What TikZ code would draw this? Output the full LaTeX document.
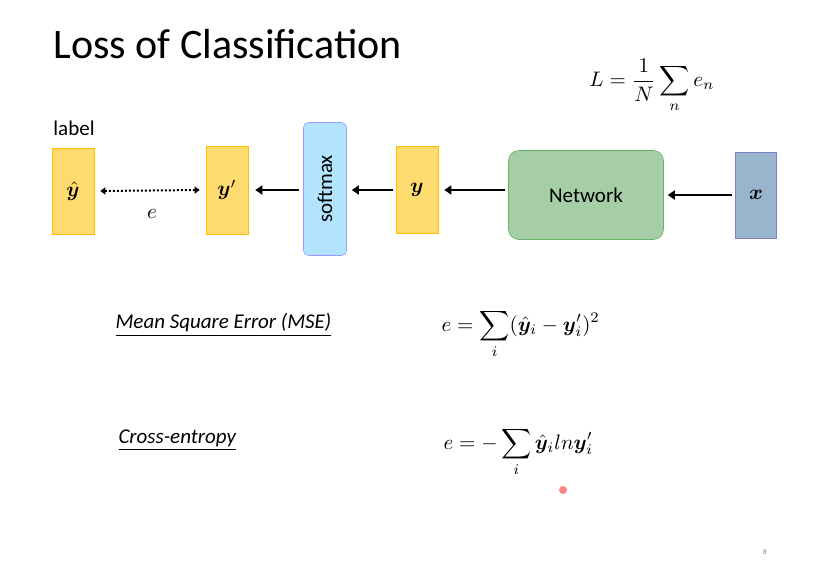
\documentclass[tikz,border=0pt]{standalone}
\usepackage{amsmath,bm}
\usepackage{fontspec}
\setmainfont{Carlito}
\usetikzlibrary{arrows.meta}
\newcommand\mybig[1]{\scalebox{2.1}{#1}}
\begin{document}
\begin{tikzpicture}[x=1pt,y=-1pt,
  ybox/.style={draw=orange!50!yellow,fill=yellow!55!orange!55,line width=0.6pt,inner sep=0pt},
  arr/.style={-{Triangle[length=7pt,width=9pt]},line width=2.6pt},
  mid/.style={font=\fontsize{21}{24}\selectfont}]
\useasboundingbox (0,0) rectangle (818,560);
\node[anchor=west,font=\fontsize{42}{46}\selectfont] (title) at (50,44) {Loss of Classification};
\node (L) at (652,86) {\mybig{$L=\dfrac{1}{N}\displaystyle\sum_n e_n$}};
\node[mid] (lab) at (74,128) {label};
\node[ybox,minimum width=42pt,minimum height=86pt] (yh) at (73,191) {\mybig{$\hat{\bm y}$}};
\node[ybox,minimum width=42pt,minimum height=88pt] (yp) at (227,190) {\mybig{$\bm y'$}};
\node[draw=blue!40,fill=blue!35!cyan!30,rounded corners=5pt,minimum width=43pt,minimum height=133pt,line width=0.6pt] (sm) at (325,189) {};
\node[rotate=90,mid] (smt) at (sm) {softmax};
\node[ybox,minimum width=42pt,minimum height=87pt] (y) at (417,190) {\mybig{$\bm y$}};
\node[draw=green!50!black!60,fill=green!45!black!35,rounded corners=10pt,minimum width=155pt,minimum height=89pt,line width=0.6pt,mid] (net) at (586,195) {Network};
\node[draw=blue!60!black!50,fill=blue!45!cyan!35!gray!60,minimum width=41pt,minimum height=86pt,inner sep=0pt] (x) at (756,195) {\mybig{$\bm x$}};
\draw[arr] (x.west)++(-3,0) -- ([xshift=4pt]net.east|-x.west);
\draw[arr] ([xshift=-3pt]net.west|-y.east) -- ([xshift=6pt]y.east);
\draw[arr] ([xshift=-3pt]y.west) -- ([xshift=5pt]sm.east|-y.west);
\draw[arr] ([xshift=-4pt]sm.west|-yp.east) -- ([xshift=7pt]yp.east);
\draw[{Triangle[length=5pt,width=7pt]}-{Triangle[length=5pt,width=7pt]},line width=2pt,dotted] ([xshift=6pt]yh.east) -- ([xshift=-6pt]yp.west);
\node (e) at (152,214) {\mybig{$e$}};
\node[mid,anchor=west] (mse) at (112,325) {\underline{\textit{Mean Square Error (MSE)}}};
\node[anchor=west] (msef) at (438,334) {\mybig{$e=\displaystyle\sum_i(\hat{\bm y}_i-\bm y'_i)^2$}};
\node[mid,anchor=west] (ce) at (115,440) {\underline{\textit{Cross-entropy}}};
\node[anchor=west] (cef) at (440,452) {\mybig{$e=-\displaystyle\sum_i\hat{\bm y}_i ln\bm y'_i$}};
\fill[red!80,opacity=0.6] (563,490) circle (4pt);
\node[font=\scriptsize,text=gray] (pg) at (765,552) {8};
\end{tikzpicture}
\end{document}
